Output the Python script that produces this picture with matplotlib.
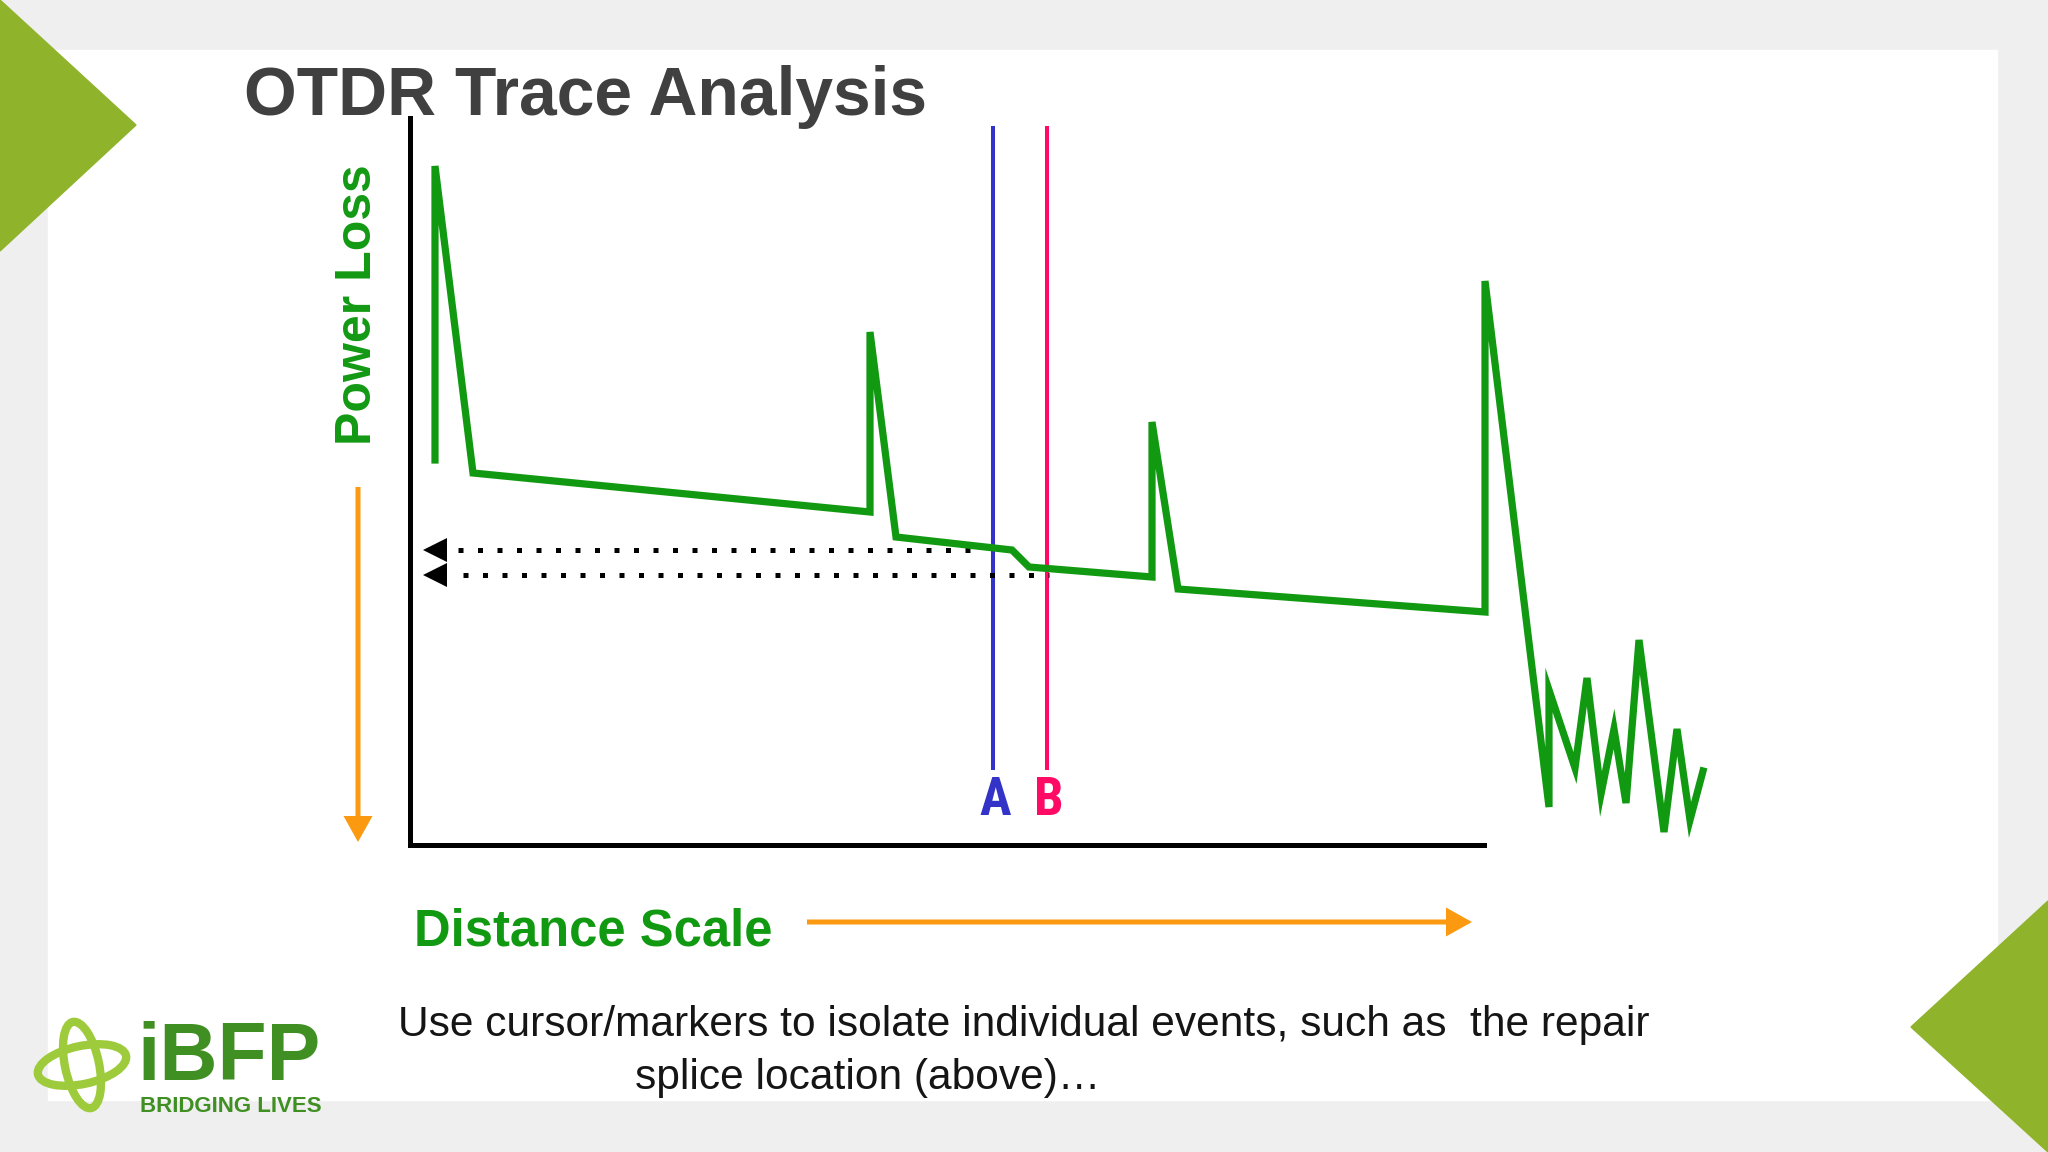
import matplotlib
matplotlib.use('Agg')
import matplotlib.pyplot as plt
from matplotlib.patches import Rectangle, Polygon, Ellipse

plt.rcParams['font.family'] = ['Liberation Sans', 'DejaVu Sans']

W, H = 2048, 1152

## Trace (pixel units, y grows downward)
#
trace_x = [435, 435, 473, 870, 870, 896, 1012, 1029, 1152, 1152, 1178, 1485, 1485,
           1549, 1549, 1575, 1587, 1601, 1614, 1626, 1639, 1664, 1677, 1690, 1703]
trace_y = [460, 166, 473, 512, 332, 537, 550, 567, 577, 422, 589, 612, 281,
           807, 690, 768, 678, 794, 729, 803, 640, 832, 729, 820, 771]

cursor_labels = ['A', 'B']
cursor_x      = [993, 1047]
cursor_colors = ['#3333c8', '#ff0a64']

level_y     = [550, 575]      # dotted read-out levels
level_start = [458, 463]
level_end   = [983, 1049]

title    = 'OTDR Trace Analysis'
ylabel   = 'Power Loss'
xlabel   = 'Distance Scale'
caption1 = 'Use cursor/markers to isolate individual events, such as  the repair'
caption2 = 'splice location (above)\u2026'

green  = '#129912'
orange = '#fb9a10'
lime   = '#8fb32a'

fig = plt.figure(figsize=(W / 100, H / 100), dpi=100, facecolor='#efefef')
ax = fig.add_axes([0, 0, 1, 1])
ax.set_xlim(0, W); ax.set_ylim(H, 0)
ax.axis('off')

## Slide decorations
#
ax.add_patch(Rectangle((48, 50), 1997 - 48, 1100 - 50, color='white', zorder=0))
ax.add_patch(Polygon([(0, 0), (136, 125), (0, 251)], color=lime, zorder=1))
ax.add_patch(Polygon([(W, 901), (1911, 1027), (W, H)], color=lime, zorder=1))

ax.text(244, 115, title, fontsize=48.8, fontweight='bold', color='#404040', va='baseline')

## Axes lines
#
x0, y0, x1, y1 = 410, 845, 1484, 118
ax.plot([x0, x0, x1], [y1, y0, y0], color='black', lw=3.6, solid_joinstyle='miter')

## Cursors
#
for lab, cx, col in zip(cursor_labels, cursor_x, cursor_colors):
    ax.plot([cx, cx], [128, 768], color=col, lw=2.9)
    ax.text(cx + 2, 815, lab, fontsize=38, fontweight='heavy', color=col, ha='center',
            va='baseline', family=['Roboto Condensed', 'Liberation Sans Narrow', 'Liberation Sans'])

## Dotted read-outs with arrow heads
#
for ly, ls, le in zip(level_y, level_start, level_end):
    ax.plot([ls, le], [ly, ly], color='black', lw=3.6,
            linestyle=(0, (1, 2.9)), dash_capstyle='butt')
    ax.arrow(447, ly, -24, 0, width=0, head_width=24, head_length=24,
             length_includes_head=True, color='black', lw=0)

## Trace
#
ax.plot(trace_x, trace_y, color=green, lw=5.2, solid_joinstyle='miter', zorder=5)

## Axis titles
#
ax.text(358, 305, ylabel, fontsize=36, fontweight='bold', color=green, rotation=90,
        ha='center', va='center')
ax.arrow(358, 487, 0, 842 - 487, width=5, head_width=29, head_length=26,
         length_includes_head=True, color=orange, lw=0)
ax.text(414, 946, xlabel, fontsize=36.5, fontweight='bold', color=green, va='baseline')
ax.arrow(807, 922, 1472 - 807, 0, width=5, head_width=29, head_length=26,
         length_includes_head=True, color=orange, lw=0)

ax.text(398, 1025, caption1, fontsize=30.6, color='#151515', va='center')
ax.text(635, 1078, caption2, fontsize=30.6, color='#151515', va='center')

## Logo
#
for ang, (w, h) in zip((-12, -12), ((90, 38), (34, 88))):
    ax.add_patch(Ellipse((82, 1065), w, h, angle=ang, fill=False,
                         edgecolor='#9dcb3c', lw=6, zorder=3))
ax.text(137, 1080, 'iBFP', fontsize=58, fontweight='bold', color='#3f8f22', va='baseline')
ax.text(140, 1112, 'BRIDGING LIVES', fontsize=16, fontweight='bold', color='#3f8f22',
        va='baseline')

fig.savefig('out.png', dpi=100, facecolor=fig.get_facecolor())
